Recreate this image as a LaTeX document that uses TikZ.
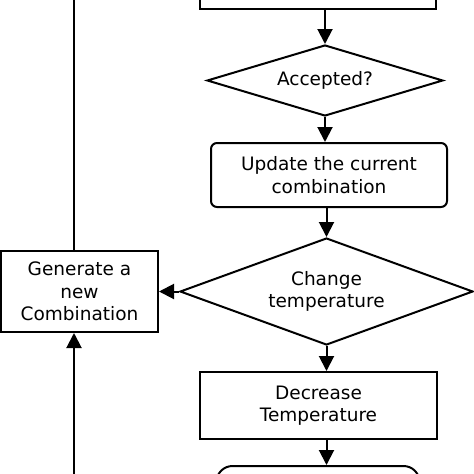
\documentclass[tikz,border=0pt]{standalone}
\usepackage{fontspec}
\setmainfont{DejaVu Sans}
\usepackage{tikz}
\usetikzlibrary{arrows.meta, shapes.geometric}

\begin{document}
\begin{tikzpicture}[x=1pt, y=-1pt, line width=2pt,
        every node/.style={font=\fontsize{18.5}{22.5}\selectfont, align=center, inner sep=0pt},
        box/.style={draw, rectangle},
        roundbox/.style={draw, rectangle, rounded corners=6pt},
        decision/.style={draw, diamond},
        arrow/.style={-{Triangle[width=15pt, length=15pt]}}]
    % Frame
    \useasboundingbox (0, 0) rectangle (474, 474);
    \clip (0, 0) rectangle (474, 474);
    % Boxes
    \node [box, minimum width=236, minimum height=67] (prev) at (318, -24.5) {};
    \node [decision, aspect=3.32, minimum width=236, minimum height=71] (accepted) at (325, 80.5) {Accepted?};
    \node [roundbox, minimum width=236, minimum height=64] (update) at (329, 175) {Update the current\\combination};
    \node [decision, aspect=2.74, minimum width=293, minimum height=107] (change) at (326.5, 291.5) {Change\\temperature};
    \node [box, minimum width=157, minimum height=81] (generate) at (79.5, 291.5) {Generate a\\new\\Combination};
    \node [box, minimum width=237, minimum height=67] (decrease) at (318.5, 405.5) {Decrease\\Temperature};
    \node [draw, rectangle, rounded corners=16pt, minimum width=203, minimum height=60] (next) at (318, 496) {};
    % Loop ends
    \coordinate (looptop) at (74, -5);
    \coordinate (loopbottom) at (74, 480);
    % Lines
    \draw [arrow] (accepted.north |- prev.south) -- (accepted.north);
    \draw [arrow] (accepted.south) -- (accepted.south |- update.north);
    \draw [arrow] (change.north |- update.south) -- (change.north);
    \draw [arrow] (change.west) -- (generate.east);
    \draw [arrow] (change.south) -- (change.south |- decrease.north);
    \draw [arrow] (change.south |- decrease.south) -- (change.south |- next.north);
    \draw (looptop |- generate.north) -- (looptop);
    \draw [arrow] (loopbottom) -- (loopbottom |- generate.south);
\end{tikzpicture}
\end{document}
